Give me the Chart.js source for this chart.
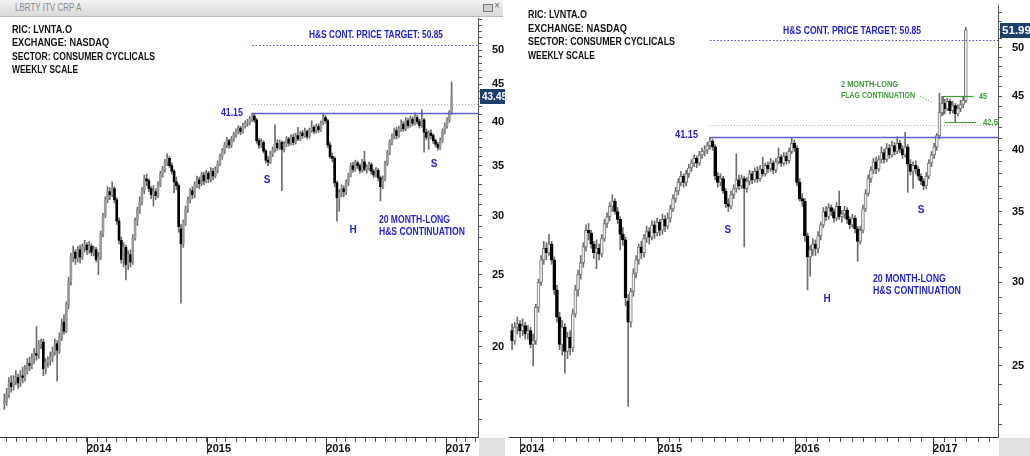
<!DOCTYPE html>
<html>
<head>
<meta charset="utf-8">
<script src="https://cdn.jsdelivr.net/npm/chart.js@4.4.1/dist/chart.umd.min.js"></script>
<style>
  body { margin: 0; background: #fff; font-family: 'Liberation Sans', sans-serif; }
  #page { position: relative; width: 1030px; height: 456px; overflow: hidden; }
  #titlebar { position: absolute; left: 0; top: 0; width: 503px; height: 17px; box-sizing: border-box;
    background: linear-gradient(#f3f3f3, #d9d9d9); border-bottom: 1px solid #b9b9b9; }
  #titlebar .name { position: absolute; left: 15px; top: 2px; font-size: 10px; color: #8a8a8a;
    transform: scaleX(0.8); transform-origin: left center; white-space: nowrap; }
  #titlebar .ico { position: absolute; left: 483px; top: 4px; width: 8px; height: 6px; border: 1px solid #777; background: #cfcfcf; }
  #titlebar .x { position: absolute; left: 494px; top: 0; font-size: 10px; color: #666; }
  #leftWrap { position: absolute; left: 0; top: 17px; }
  #rightWrap { position: absolute; left: 505px; top: 0; }
  .corner { position: absolute; background: #e2e2e2; }
</style>
</head>
<body>
<div id="page">
  <div id="titlebar"><span class="name">LBRTY ITV CRP A</span><span class="ico"></span><span class="x">×</span></div>
  <div id="leftWrap"><canvas id="leftChart" width="505" height="439"></canvas></div>
  <div id="rightWrap"><canvas id="rightChart" width="525" height="456"></canvas></div>
  <div class="corner" style="left:479px;top:438px;width:26px;height:18px"></div>
  <div class="corner" style="left:999px;top:438px;width:31px;height:18px"></div>
</div>
<script>
// weekly candles, x = weeks since 1 Jan 2014
const firstWeek = -36;

const opens = [
  16.8,16.9,17.3,17.9,17.7,18.0,18.2,17.9,18.3,18.2,
  18.6,19.0,18.9,19.3,19.6,19.5,20.2,20.3,18.7,19.1,
  19.2,19.4,19.7,20.2,19.8,20.6,21.6,21.0,22.8,24.5,
  26.4,26.8,26.3,27.0,26.4,27.2,27.4,27.0,27.3,26.8,
  27.0,26.2,26.4,28.4,30.0,31.5,32.3,32.0,32.6,31.5,
  29.5,27.8,26.2,27.2,25.8,26.6,26.0,28.0,29.5,30.5,
  31.3,32.4,33.6,33.4,32.6,32.0,32.3,31.9,33.0,34.1,
  34.6,35.4,35.8,35.0,34.4,33.3,32.9,28.8,27.5,29.4,
  30.6,31.5,32.4,32.0,33.0,33.5,33.1,34.0,33.4,34.2,
  33.6,34.4,33.9,34.5,35.2,36.0,36.6,37.3,37.8,37.3,
  38.0,38.5,38.9,39.3,38.9,39.6,39.9,40.0,40.4,40.8,
  40.3,37.8,37.3,37.6,36.6,35.6,35.4,36.3,36.8,37.5,
  37.0,37.6,36.8,37.4,38.0,37.5,38.2,37.6,38.4,38.0,
  38.7,38.4,38.9,38.3,39.0,39.4,38.9,39.5,39.1,39.9,
  40.6,40.2,37.3,36.0,35.8,33.2,31.7,32.2,32.6,32.3,
  33.2,34.0,35.0,34.6,35.3,35.0,34.5,35.4,34.6,34.8,
  35.1,34.4,34.0,34.5,33.7,32.8,33.6,35.2,36.4,37.6,
  38.3,39.0,38.4,39.2,39.8,39.2,40.2,39.6,40.4,39.9,
  40.6,40.1,39.6,40.3,38.8,38.2,38.7,38.4,37.8,37.4,
  37.0,37.8,38.9,39.6,40.3,41.3,43.45,44.3,43.8,44.5,
  43.6,44.1,43.3,43.8,44.2,44.6
];
const highs = [
  17.3,17.6,18.2,18.3,18.3,18.6,18.4,18.6,18.8,18.9,
  19.3,19.4,19.6,19.9,21.3,20.4,20.5,20.5,19.3,19.4,
  19.7,20.0,20.5,20.4,20.9,21.8,22.1,23.0,24.8,26.7,
  27.3,27.0,27.3,27.4,27.5,27.8,27.6,27.7,27.5,27.3,
  27.2,26.8,28.6,30.2,31.8,32.8,32.7,33.3,32.8,31.7,
  29.8,28.1,27.6,27.4,26.9,27.0,28.3,29.8,30.8,31.8,
  32.7,34.0,34.1,33.6,32.8,32.9,32.6,33.3,34.4,34.9,
  35.7,36.3,36.0,35.3,34.6,33.8,33.1,29.2,29.6,30.9,
  31.8,32.6,32.8,33.3,33.9,33.8,34.3,34.3,34.5,34.4,
  34.8,34.7,34.9,35.5,36.3,36.9,37.6,38.2,38.0,38.3,
  38.8,39.2,39.6,39.5,39.9,40.2,40.4,40.7,41.15,41.0,
  40.5,38.1,38.0,37.8,36.8,36.0,36.6,37.1,39.7,37.9,
  37.9,37.8,37.7,38.3,38.2,38.5,38.6,38.7,39.4,38.9,
  39.0,39.3,39.1,39.3,40.2,39.6,39.8,39.8,40.2,41.15,
  40.9,40.4,37.6,36.4,36.0,33.4,32.5,33.0,32.9,33.5,
  34.2,35.3,35.4,35.6,35.5,35.2,35.7,36.6,35.1,35.4,
  35.3,34.6,34.8,34.7,33.9,33.9,35.5,36.7,37.9,38.6,
  39.3,39.4,39.5,40.3,40.1,40.6,40.5,40.8,40.7,41.2,
  40.9,40.4,41.6,40.5,39.2,39.0,39.1,38.6,38.0,37.6,
  38.1,39.2,39.9,40.6,41.5,45.3,45.0,44.7,44.8,44.7,
  44.5,44.3,44.2,44.6,45.0,52.3
];
const lows = [
  16.5,16.7,17.1,17.4,17.5,17.8,17.6,17.7,17.9,18.0,
  18.4,18.6,18.7,19.0,19.2,19.3,19.9,18.3,18.4,18.8,
  18.9,19.1,19.5,18.0,19.6,20.4,20.8,20.9,22.5,24.2,
  26.0,25.8,26.0,25.9,26.2,26.8,26.6,26.7,26.5,26.5,
  26.0,25.0,26.2,28.1,29.8,31.2,31.5,31.8,31.2,29.2,
  27.5,25.9,25.6,24.6,25.4,25.6,25.8,27.8,29.1,30.2,
  31.0,32.1,32.9,32.3,31.6,30.9,31.5,31.7,32.8,33.8,
  34.3,35.0,34.8,34.1,32.2,32.5,28.5,22.9,27.2,29.1,
  30.3,31.2,31.6,31.7,32.7,32.6,32.9,33.0,33.2,33.2,
  33.3,33.5,33.7,34.2,35.0,35.7,36.3,37.0,36.9,37.0,
  37.7,38.2,38.6,38.5,38.7,39.3,39.5,39.7,40.1,40.0,
  37.5,36.9,37.0,36.4,35.3,35.0,35.2,36.0,36.5,36.7,
  36.8,32.4,36.5,37.1,37.2,37.3,37.3,37.4,37.8,37.8,
  38.1,38.2,38.0,38.1,38.8,38.6,38.7,38.8,38.9,39.7,
  39.9,37.0,35.8,35.4,32.8,29.5,30.4,31.8,31.8,32.0,
  32.9,33.8,34.3,34.4,34.7,34.2,34.3,34.4,34.2,34.5,
  34.1,33.7,33.8,33.4,31.4,32.6,33.4,35.0,36.2,37.3,
  38.0,38.0,38.2,38.9,38.9,39.0,39.3,39.4,39.6,39.7,
  39.8,39.3,39.4,36.5,37.9,36.8,38.0,37.5,37.1,36.7,
  36.8,37.6,38.6,39.3,40.0,41.0,43.1,43.3,43.6,43.3,
  43.4,42.5,43.1,43.5,43.9,44.4
];
const closes = [
  16.9,17.3,17.9,17.7,18.0,18.2,17.9,18.3,18.2,18.6,
  19.0,18.9,19.3,19.6,19.5,20.2,20.3,18.7,19.1,19.2,
  19.4,19.7,20.2,19.8,20.6,21.4,21.0,22.8,24.5,26.4,
  26.8,26.3,27.0,26.4,27.2,27.4,27.0,27.3,26.8,27.0,
  26.2,26.4,28.4,30.0,31.5,32.3,32.0,32.6,31.5,29.5,
  27.8,26.2,27.2,25.8,26.6,26.0,28.0,29.5,30.5,31.3,
  32.4,33.6,33.4,32.6,32.0,32.3,31.9,33.0,34.1,34.6,
  35.4,35.8,35.0,34.4,33.3,32.9,29.0,27.5,29.4,30.6,
  31.5,32.4,32.0,33.0,33.5,33.1,34.0,33.4,34.2,33.6,
  34.4,33.9,34.5,35.2,36.0,36.6,37.3,37.8,37.3,38.0,
  38.5,38.9,39.3,38.9,39.6,39.9,40.0,40.4,40.8,40.3,
  37.8,37.3,37.6,36.6,35.6,35.4,36.3,36.8,37.5,37.0,
  37.6,36.8,37.4,38.0,37.5,38.2,37.6,38.4,38.0,38.7,
  38.4,38.9,38.3,39.0,39.4,38.9,39.5,39.1,39.9,40.6,
  40.2,37.3,36.0,35.8,33.2,31.7,32.2,32.6,32.3,33.2,
  34.0,35.0,34.6,35.3,35.0,34.5,35.4,34.6,34.8,35.1,
  34.4,34.0,34.5,33.7,32.8,33.6,35.2,36.4,37.6,38.3,
  39.0,38.4,39.2,39.8,39.2,40.2,39.6,40.4,39.9,40.6,
  40.1,39.6,40.3,38.8,38.2,38.7,38.4,37.8,37.4,37.0,
  37.8,38.9,39.6,40.3,41.3,43.45,44.3,43.8,44.5,43.6,
  44.1,43.3,43.8,44.2,44.6,51.99
];

const years = [2013, 2014, 2015, 2016, 2017];
const priceTicks = [16,17,18,19,20,21,22,23,24,25,26,27,28,29,30,31,32,33,34,35,
  36,37,38,39,40,41,42,43,44,45,46,47,48,49,50,51,52,53,54,55];
const labelledPrices = [20, 25, 30, 35, 40, 45, 50];
const headerLines = ['RIC: LVNTA.O', 'EXCHANGE: NASDAQ', 'SECTOR: CONSUMER CYCLICALS', 'WEEKLY SCALE'];
const neckline = 41.15;
const priceTarget = 50.85;
const priorLevel = 42.3;
const flagHigh = 45;
const flagLow = 42.5;

const FONT = "'Liberation Sans', Arial, sans-serif";
const BLUE = '#2424d2';
const GREEN = '#3f9a3a';

function weekOf(y, m) {
  return (Date.UTC(y, m, 1) - Date.UTC(2014, 0, 1)) / (7 * 864e5);
}

function monthTicks(min, max) {
  const out = [];
  years.forEach(y => {
    for (let m = 0; m < 12; m++) {
      const v = weekOf(y, m);
      if (v >= min && v <= max) out.push({ value: v, yearLabel: m === 0 ? String(y) : '' });
    }
  });
  return out;
}

function candleSets(from, to, style) {
  const bodies = [], wicks = [];
  for (let i = from; i <= to; i++) {
    const x = firstWeek + i;
    wicks.push({ x: x, y: [lows[i], highs[i]] });
    bodies.push({ x: x, y: [opens[i], closes[i]], up: closes[i] >= opens[i] });
  }
  const isUp = c => c.raw && c.raw.up;
  return [
    { data: bodies, grouped: false, order: 0, barThickness: style.bodyW,
      borderWidth: style.border, borderSkipped: false,
      backgroundColor: c => isUp(c) ? style.upFill : '#000',
      borderColor: c => isUp(c) ? style.upLine : '#000' },
    { data: wicks, grouped: false, order: 1, barThickness: 1, borderWidth: 0, backgroundColor: '#6e6e6e' }
  ];
}

function text(ctx, str, x, y, font, color, align, width) {
  ctx.save();
  ctx.font = font;
  ctx.fillStyle = color;
  ctx.textBaseline = 'middle';
  ctx.textAlign = 'left';
  const natural = ctx.measureText(str).width;
  const w = width || natural;
  const left = align === 'right' ? x - w : align === 'center' ? x - w / 2 : x;
  ctx.translate(left, y);
  ctx.scale(w / natural, 1);
  ctx.fillText(str, 0, 0);
  ctx.restore();
}

function line(ctx, x1, y1, x2, y2, color, dash, width) {
  ctx.save();
  ctx.strokeStyle = color;
  ctx.lineWidth = width;
  ctx.setLineDash(dash);
  ctx.beginPath();
  ctx.moveTo(x1, y1);
  ctx.lineTo(x2, y2);
  ctx.stroke();
  ctx.restore();
}

function notesPlugin(spec) {
  return {
    id: 'notes',
    afterDraw(chart) {
      const ctx = chart.ctx, a = chart.chartArea;
      const xs = chart.scales.x, ys = chart.scales.y;
      const px = w => xs.getPixelForValue(w);
      const py = p => ys.getPixelForValue(p);
      const snap = v => Math.round(v) + 0.5;

      // year separators below the axis
      xs.ticks.forEach(t => {
        if (!t.yearLabel) return;
        const xx = snap(px(t.value));
        line(ctx, xx, a.bottom, xx, a.bottom + 17, '#333', [], 1);
      });

      const x0 = px(spec.lineFrom);
      line(ctx, x0, snap(py(priorLevel)), a.right, snap(py(priorLevel)), '#aaa', [1, 2], 1);
      line(ctx, x0, snap(py(priceTarget)), a.right, snap(py(priceTarget)), '#4a4ad8', [1.5, 2], 1.2);
      line(ctx, x0, snap(py(neckline)), a.right, snap(py(neckline)), '#5f5fcf', [], 1.3);

      headerLines.forEach((s, i) => {
        text(ctx, s, spec.header.x, spec.header.y + i * spec.header.step, 'bold 11px ' + FONT, '#111', 'left', spec.header.widths[i]);
      });

      const bf = 'bold 10px ' + FONT;
      text(ctx, 'H&S CONT. PRICE TARGET: ' + priceTarget, px(spec.target.w), py(spec.target.p), bf, BLUE, 'center', spec.target.width);
      text(ctx, String(neckline), px(spec.neck.w), py(spec.neck.p), bf, BLUE, 'right', spec.neck.width);
      spec.shoulders.forEach(s => text(ctx, s[0], px(s[1]), py(s[2]), bf, BLUE, 'center'));
      text(ctx, '20 MONTH-LONG', px(spec.pattern.w), py(spec.pattern.p1), bf, BLUE, 'left', spec.pattern.widths[0]);
      text(ctx, 'H&S CONTINUATION', px(spec.pattern.w), py(spec.pattern.p2), bf, BLUE, 'left', spec.pattern.widths[1]);

      if (spec.flag) {
        const f = spec.flag, gf = 'bold 9px ' + FONT;
        const yt = snap(py(flagHigh)), yb = snap(py(flagLow));
        line(ctx, px(f.topFrom), yt, px(f.topTo), yt, GREEN, [], 1.2);
        line(ctx, px(f.botFrom), yb, px(f.botTo), yb, GREEN, [], 1.2);
        line(ctx, snap(px(f.topFrom)), yt, snap(px(f.topFrom)), py(f.sideLow), GREEN, [], 1);
        line(ctx, px(f.leader[0][0]), py(f.leader[0][1]), px(f.leader[1][0]), py(f.leader[1][1]), GREEN, [1, 2], 1);
        text(ctx, '2 MONTH-LONG', px(f.textW), py(f.p1), gf, GREEN, 'left', f.widths[0]);
        text(ctx, 'FLAG CONTINUATION', px(f.textW), py(f.p2), gf, GREEN, 'left', f.widths[1]);
        text(ctx, String(flagHigh), px(f.highLabelW), py(flagHigh), gf, GREEN, 'left', 8);
        text(ctx, String(flagLow), px(f.lowLabelW), py(flagLow), gf, GREEN, 'left', 15);
      }

      // last price box on the axis
      const my = Math.round(py(spec.marker.price));
      ctx.save();
      ctx.fillStyle = '#1c3f6c';
      ctx.fillRect(a.right + 2, my - 7, 40, 15);
      ctx.restore();
      text(ctx, spec.marker.price.toFixed(2), a.right + 4, my + 0.5, 'bold 11px ' + FONT, '#fff', 'left', spec.marker.width);
    }
  };
}

function makeChart(id, cfg) {
  return new Chart(document.getElementById(id), {
    type: 'bar',
    data: { datasets: candleSets(cfg.from, cfg.to, cfg.style) },
    options: {
      responsive: false,
      animation: false,
      devicePixelRatio: 1,
      events: [],
      layout: { padding: { left: cfg.padLeft, top: cfg.padTop, right: 0, bottom: 0 } },
      plugins: { legend: { display: false }, tooltip: { enabled: false } },
      scales: {
        x: {
          type: 'linear', min: cfg.xMin, max: cfg.xMax, offset: false,
          grid: { drawOnChartArea: false, offset: false, tickLength: 5, tickColor: '#555' },
          border: { display: true, color: '#333' },
          ticks: {
            autoSkip: false, maxRotation: 0, align: 'start', padding: 0, color: '#111',
            font: { family: FONT, weight: 'bold', size: 11 },
            callback: (v, i, ticks) => ticks[i].yearLabel || ''
          },
          afterBuildTicks: s => { s.ticks = monthTicks(s.min, s.max); },
          afterFit: s => { s.height = 19; s.paddingLeft = 0; s.paddingRight = 0; }
        },
        y: {
          type: 'logarithmic', position: 'right', min: cfg.yMin, max: cfg.yMax,
          grid: { drawOnChartArea: false, tickLength: 4, tickColor: '#555' },
          border: { display: true, color: '#555' },
          ticks: {
            autoSkip: false, padding: 10, color: '#111',
            font: { family: FONT, weight: 'bold', size: 11 },
            callback: v => labelledPrices.includes(v) ? String(v) : ''
          },
          afterBuildTicks: s => { s.ticks = priceTicks.filter(v => v >= s.min && v <= s.max).map(v => ({ value: v })); },
          afterFit: s => { s.width = cfg.axisW; s.paddingTop = 0; s.paddingBottom = 0; }
        }
      }
    },
    plugins: [notesPlugin(cfg.notes)]
  });
}

makeChart('leftChart', {
  from: 0, to: 195,
  style: { bodyW: 2, border: 0, upFill: '#9a9a9a', upLine: '#9a9a9a' },
  xMin: -37.9, xMax: 170.5, yMin: 15.15, yMax: 55.2,
  padLeft: 0, padTop: 1, axisW: 27,
  notes: {
    header: { x: 12, y: 13, step: 13.3, widths: [60, 97, 143, 66] },
    lineFrom: 72,
    target: { w: 126, p: 52.4, width: 134 },
    neck: { w: 68, p: 41.15, width: 22 },
    shoulders: [['S', 78.5, 33.5], ['H', 116, 28.7], ['S', 151.3, 35.1]],
    pattern: { w: 127.3, p1: 29.6, p2: 28.5, widths: [71, 86] },
    marker: { price: closes[195], width: 25 },
    flag: null
  }
});

makeChart('rightChart', {
  from: 33, to: 205,
  style: { bodyW: 3, border: 1, upFill: '#ececec', upLine: '#7c7c7c' },
  xMin: -4.17, xMax: 181.2, yMin: 21.41, yMax: 54.9,
  padLeft: 4, padTop: 5, axisW: 32,
  notes: {
    header: { x: 23, y: 15, step: 13.7, widths: [59, 99, 147, 67] },
    lineFrom: 72,
    target: { w: 125.9, p: 51.9, width: 138 },
    neck: { w: 67.5, p: 41.36, width: 23 },
    shoulders: [['S', 78.8, 33.6], ['H', 116.4, 28.9], ['S', 152, 35.1]],
    pattern: { w: 133.8, p1: 30.2, p2: 29.4, widths: [73, 88] },
    marker: { price: closes[205], width: 29 },
    flag: {
      topFrom: 160.3, topTo: 171.9, botFrom: 161, botTo: 173, sideLow: 43.2,
      leader: [[151.6, 45.0], [156.2, 44.4]],
      textW: 121.7, p1: 46.2, p2: 45.1, widths: [57, 74],
      highLabelW: 174, lowLabelW: 175.5
    }
  }
});
</script>
</body>
</html>
